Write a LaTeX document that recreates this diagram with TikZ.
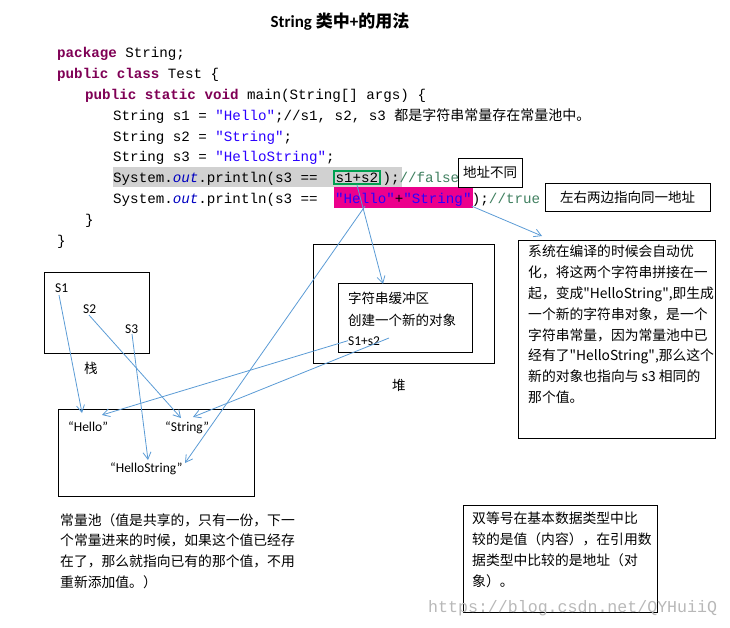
\documentclass[tikz,border=0pt]{standalone}
\usepackage{fontspec}
\setmainfont{Carlito}
\setmonofont{Liberation Mono}
\newfontfamily\cjk{Noto Sans CJK SC}
\usetikzlibrary{arrows.meta,backgrounds}
\definecolor{kw}{HTML}{7F0055}
\definecolor{st}{HTML}{2A00FF}
\definecolor{cm}{HTML}{3F7F5F}
\definecolor{fl}{HTML}{0000C0}
\definecolor{ar}{HTML}{5B9BD5}
\definecolor{gr}{HTML}{00A050}
\newcommand{\kw}[1]{\textcolor{kw}{\textbf{#1}}}
\newcommand{\sv}[1]{\textcolor{st}{#1}}
\newcommand{\fo}{\textcolor{fl}{\textit{out}}}
\newcommand{\zh}[1]{{\cjk #1}}
\begin{document}
\begin{tikzpicture}[x=1pt,y=-1pt,
  code/.style={anchor=base west,inner sep=0pt,font=\ttfamily\fontsize{14.2}{16}\selectfont},
  lbl/.style={anchor=base west,inner sep=0pt,font=\fontsize{13.5}{15}\selectfont},
  zlbl/.style={anchor=base west,inner sep=0pt,font=\cjk\fontsize{13.5}{15}\selectfont},
  box/.style={draw,line width=0.8pt},
  par/.style={anchor=north west,inner sep=0pt,align=left,font=\cjk\fontsize{13.8}{20.8}\selectfont},
  arr/.style={draw=ar,line width=0.8pt,-{Straight Barb[length=7pt,width=8pt]}}]
\useasboundingbox (0,0) rectangle (730,627);
\node[font=\bfseries\fontsize{17}{20}\selectfont,anchor=base] (title) at (340,27) {String \zh{类中}+\zh{的用法}};
\node[code] (c1) at (57,57) {\kw{package} String;};
\node[code] (c2) at (57,78) {\kw{public} \kw{class} Test \{};
\node[code] (c3) at (85,99) {\kw{public} \kw{static} \kw{void} main(String[] args) \{};
\node[code] (c4) at (113,120) {String s1 = \sv{"Hello"};//s1, s2, s3 \zh{\fontsize{14}{15}\selectfont 都是字符串常量存在常量池中。}};
\node[code] (c5) at (113,141) {String s2 = \sv{"String"};};
\node[code] (c6) at (113,161) {String s3 = \sv{"HelloString"};};
\node[code] (c7a) at (113,182) {System.\fo.println(s3 == };
\node[code,draw=gr,line width=2.2pt,inner sep=1.5pt,anchor=base west] (s12) at (333,182) {s1+s2};
\node[code] (c7b) at ([xshift=1.5pt]s12.base east) {);\textcolor{cm}{//false}};
\node[code] (c8a) at (113,203) {System.\fo.println(s3 == };
\node[code] (hs) at (335,203) {\sv{"Hello"}+\sv{"String"}};
\node[code] (c8b) at (hs.base east) {);\textcolor{cm}{//true}};
\node[code] (c9) at (85,224) {\}};
\node[code] (c10) at (57,245) {\}};
\begin{scope}[on background layer]
\fill[black!18] (113,167) rectangle (402,187);
\fill[magenta] ([xshift=-1pt]hs.west |- 0,187) rectangle ([xshift=1pt]hs.east |- 0,208);
\end{scope}
% callouts
\node[box,fill=white,font=\cjk\fontsize{13.5}{15}\selectfont,minimum width=64pt,minimum height=29pt] (diff) at (490,172.5) {地址不同};
\node[box,fill=white,font=\cjk\fontsize{13.5}{15}\selectfont,minimum width=165pt,minimum height=28pt] (same) at (627.5,197) {左右两边指向同一地址};
% heap
\draw[box] (313,244) rectangle (494,363);
\node[box,minimum width=134pt,minimum height=69pt] (buf) at (405,317.5) {};
\node[zlbl] (b1) at (348,303) {字符串缓冲区};
\node[zlbl] (b2) at (348,325) {创建一个新的对象};
\node[lbl] (b3) at (348,345) {S1+s2};
\node[zlbl] (heap) at (392,390) {堆};
% explanation
\node[box,minimum width=197pt,minimum height=198pt] (exp) at (616.5,339) {};
\node[par] (expt) at (528,245) {系统在编译的时候会自动优\\化，将这两个字符串拼接在一\\起，变成\textquotedbl HelloString\textquotedbl,即生成\\一个新的字符串对象，是一个\\字符串常量，因为常量池中已\\经有了\textquotedbl HelloString\textquotedbl,那么这个\\新的对象也指向与 s3 相同的\\那个值。};
% stack
\draw[box] (44,272) rectangle (149,353);
\node[lbl] (S1) at (55,292) {S1};
\node[lbl] (S2) at (83,313) {S2};
\node[lbl] (S3) at (125,333) {S3};
\node[zlbl] (stack) at (84,373) {栈};
% pool
\draw[box] (58,409) rectangle (254,496);
\node[lbl] (hello) at (68,431) {“Hello”};
\node[lbl] (string) at (165,431) {“String”};
\node[lbl] (hstr) at (110,472) {“HelloString”};
\node[par] (poolt) at (60,513) {常量池（值是共享的，只有一份，下一\\个常量进来的时候，如果这个值已经存\\在了，那么就指向已有的那个值，不用\\重新添加值。）};
% equality
\node[box,minimum width=194pt,minimum height=107pt] (eq) at (560,558.5) {};
\node[par] (eqt) at (472,512) {双等号在基本数据类型中比\\较的是值（内容），在引用数\\据类型中比较的是地址（对\\象）。};
\node[anchor=base west,inner sep=0pt,text=black!28,font=\ttfamily\fontsize{16.6}{19}\selectfont] (wm) at (428,612) {https://blog.csdn.net/QYHuiiQ};
% arrows
\draw[arr] ([xshift=30pt]hs.south west) -- (185,463);
\draw[arr] (s12.south) -- (383,284);
\draw[arr] (hs.south east) -- (542,236);
\draw[arr] (59,295) -- (82,413);
\draw[arr] (89,315) -- (181,418);
\draw[arr] (132,334) -- (148,460);
\draw[arr] (b3.west) -- (102,415);
\draw[arr] (389,338) -- (193,417);
\end{tikzpicture}
\end{document}
